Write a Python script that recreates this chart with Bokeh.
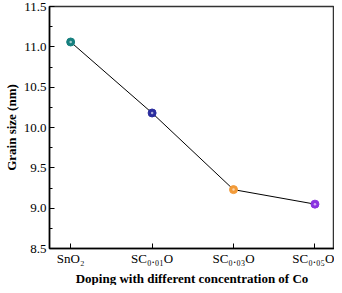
from bokeh.plotting import figure
from bokeh.models import FixedTicker, Range1d, Title
from bokeh.embed import file_html
from bokeh.resources import INLINE

categories = ["SnO₂", "SC₀.₀₁O", "SC₀.₀₃O", "SC₀.₀₅O"]
grain_size = [11.06, 10.18, 9.23, 9.05]
colors = ["#17807f", "#2b2d9e", "#f29a38", "#8a33e0"]
y_ticks = [8.5, 9.0, 9.5, 10.0, 10.5, 11.0, 11.5]

xs = list(range(len(categories)))

p = figure(width=334, height=285, output_backend="svg", toolbar_location=None,
           x_range=Range1d(-0.26, 3.24), y_range=Range1d(8.5, 11.5),
           min_border_left=44, min_border_right=0, min_border_top=6, min_border_bottom=0)

p.line(xs, grain_size, line_color="black", line_width=1)
p.scatter(xs, grain_size, size=8, fill_color=colors, line_color=colors)
p.scatter(xs, grain_size, size=2.5, fill_color="white", line_color=None, fill_alpha=0.6)

p.grid.visible = False
p.outline_line_color = "#333333"
p.outline_line_width = 1.5

font = "Liberation Serif"
p.xaxis.ticker = FixedTicker(ticks=xs)
p.xaxis.major_label_overrides = {i: c for i, c in enumerate(categories)}
p.yaxis.ticker = FixedTicker(ticks=y_ticks, minor_ticks=[8.75 + 0.5 * i for i in range(6)])
p.yaxis.major_label_overrides = {t: f"{t:.1f}" for t in y_ticks}

for ax in (p.xaxis[0], p.yaxis[0]):
    ax.major_tick_in = 5
    ax.major_tick_out = 0
    ax.minor_tick_in = 3
    ax.minor_tick_out = 0
    ax.axis_line_color = "black"
    ax.axis_line_width = 1.5
    ax.major_label_text_font = font
    ax.major_label_text_font_size = "13px"
    ax.major_label_text_color = "black"
    ax.axis_label_text_font = font
    ax.axis_label_text_font_style = "bold"
    ax.axis_label_text_font_size = "13px"
    ax.axis_label_text_color = "black"

p.xaxis.minor_tick_line_color = None
p.xaxis.major_label_standoff = 2
p.yaxis.axis_label = "Grain size (nm)"
p.yaxis.major_label_standoff = 3
p.yaxis.axis_label_standoff = 2

p.add_layout(Title(text="Doping with different concentration of Co", align="center",
                   text_font=font, text_font_size="13px", text_font_style="bold",
                   text_color="black", standoff=0, offset=0), "below")

open("out.html", "w").write(file_html(p, INLINE))
